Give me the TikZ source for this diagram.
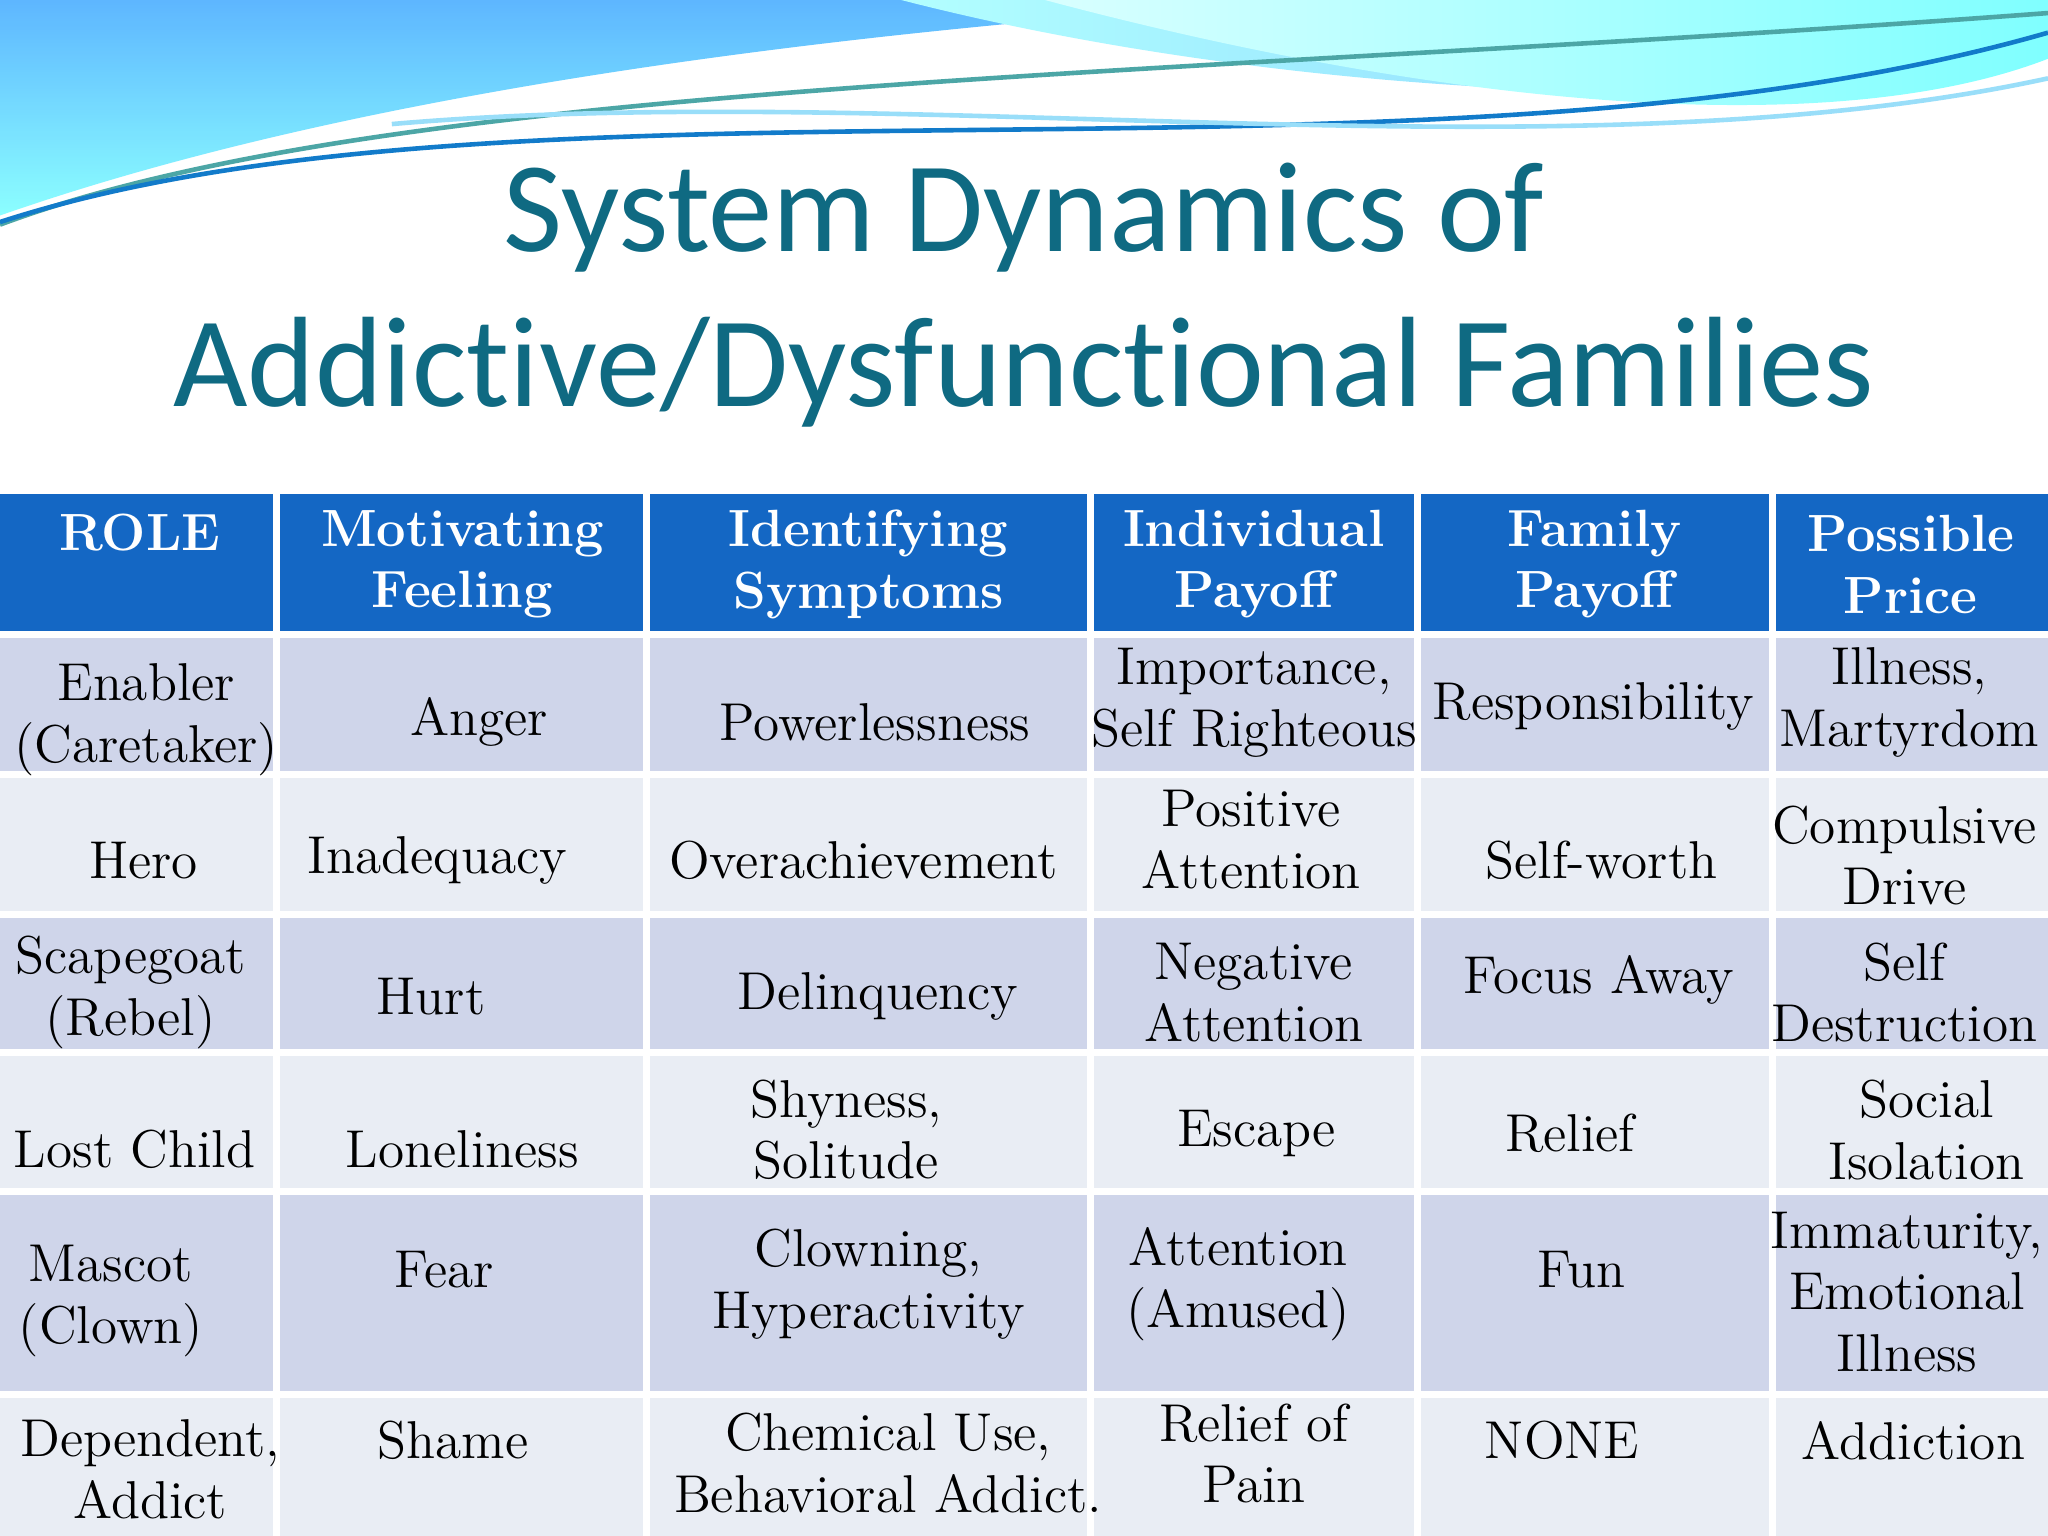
\documentclass[tikz,border=0pt]{standalone}
\usepackage{fontspec}
\newfontfamily\titlefont[Ligatures={NoCommon,NoRare,NoContextual}]{Carlito}
\definecolor{hdr}{HTML}{1467C4}
\definecolor{rowd}{HTML}{CFD5EA}
\definecolor{rowl}{HTML}{E9EDF4}
\definecolor{ttl}{HTML}{0F6A82}
\begin{document}
\begin{tikzpicture}[x=0.01cm,y=-0.01cm,
  cell/.style={align=center,font=\fontsize{11.6}{13.4}\selectfont,text=black,inner sep=0pt},
  head/.style={align=center,font=\fontsize{11.4}{13.4}\selectfont\bfseries,text=white,inner sep=0pt}]
\useasboundingbox (0,0) rectangle (1568,1176);
\fill[white] (0,0) rectangle (1568,1176);
% waves
\shade[top color=blue!45!cyan!70,bottom color=cyan!50,opacity=0.9]
  (0,0) -- (1000,0) .. controls (700,20) and (300,60) .. (0,165) -- cycle;
\shade[left color=cyan!30,right color=cyan!60!blue!50]
  (690,0) -- (1568,0) -- (1568,40) .. controls (1400,90) and (1000,80) .. (690,0) -- cycle;
\shade[left color=cyan!15,right color=cyan!50]
  (800,0) .. controls (1100,80) and (1400,110) .. (1568,45) -- (1568,0) -- cycle;
\draw[teal!70,line width=1pt] (0,172) .. controls (300,60) and (900,60) .. (1568,10);
\draw[cyan!60!blue,line width=1pt] (0,170) .. controls (400,40) and (1100,160) .. (1568,25);
\draw[cyan!40,line width=1pt] (300,95) .. controls (700,60) and (1200,140) .. (1568,60);
% title
\node[font=\titlefont\fontsize{28}{30}\selectfont,text=ttl] (t1) at (784,167) {System Dynamics of};
\node[font=\titlefont\fontsize{28}{30}\selectfont,text=ttl] (t2) at (784,285) {Addic\kern0pt tive/Dysfunc\kern0pt tional Families};
% table backgrounds
\fill[hdr] (0,378) rectangle (1568,486);
\foreach \a/\b/\c in {488/593/rowd,593/700/rowl,700/806/rowd,806/912/rowl,912/1068/rowd,1068/1176/rowl}
  \fill[\c] (0,\a) rectangle (1568,\b);
\foreach \x in {212,495,835,1085,1357}
  \draw[white,line width=1.5pt] (\x,378) -- (\x,1176);
\foreach \y in {486,593,700,806,912,1068}
  \draw[white,line width=1.5pt] (0,\y) -- (1568,\y);
% headers
\node[head] (h1) at (107,408) {ROLE};
\node[head] (h2) at (354,432) {Motivating\\Feeling};
\node[head] (h3) at (665,432) {Identifying\\Symptoms};
\node[head] (h4) at (960,432) {Individual\\Payoff};
\node[head] (h5) at (1221,432) {Family\\Payoff};
\node[head] (h6) at (1463,432) {Possible\\Price};
% row 1
\node[cell] (a1) at (112,551) {Enabler\\(Caretaker)};
\node[cell] (a2) at (367,553) {Anger};
\node[cell] (a3) at (670,553) {Powerlessness};
\node[cell] (a4) at (960,538) {Importance,\\Self Righteous};
\node[cell] (a5) at (1220,541) {Responsibility};
\node[cell] (a6) at (1462,538) {Illness,\\Martyrdom};
% row 2
\node[cell] (b1) at (110,659) {Hero};
\node[cell] (b2) at (335,659) {Inadequacy};
\node[cell] (b3) at (661,659) {Overachievement};
\node[cell] (b4) at (958,643) {Positive\\Attention};
\node[cell] (b5) at (1226,659) {Self-worth};
\node[cell] (b6) at (1458,655) {Compulsive\\Drive};
% row 3
\node[cell] (c1) at (100,760) {Scapegoat\\(Rebel)};
\node[cell] (c2) at (330,763) {Hurt};
\node[cell] (c3) at (672,763) {Delinquency};
\node[cell] (c4) at (960,760) {Negative\\Attention};
\node[cell] (c5) at (1224,750) {Focus Away};
\node[cell] (c6) at (1458,760) {Self\\Destruction};
% row 4
\node[cell] (d1) at (103,880) {Lost Child};
\node[cell] (d2) at (354,880) {Loneliness};
\node[cell] (d3) at (648,865) {Shyness,\\Solitude};
\node[cell] (d4) at (962,868) {Escape};
\node[cell] (d5) at (1202,868) {Relief};
\node[cell] (d6) at (1475,865) {Social\\Isolation};
% row 5
\node[cell] (e1) at (85,996) {Mascot\\(Clown)};
\node[cell] (e2) at (340,972) {Fear};
\node[cell] (e3) at (665,983) {Clowning,\\Hyperactivity};
\node[cell] (e4) at (948,983) {Attention\\(Amused)};
\node[cell] (e5) at (1211,972) {Fun};
\node[cell] (e6) at (1460,989) {Immaturity,\\Emotional\\Illness};
% row 6
\node[cell] (f1) at (115,1125) {Dependent,\\Addict};
\node[cell] (f2) at (347,1103) {Shame};
\node[cell] (f3) at (680,1120) {Chemical Use,\\Behavioral Addict.};
\node[cell] (f4) at (960,1113) {Relief of\\Pain};
\node[cell] (f5) at (1196,1103) {NONE};
\node[cell] (f6) at (1465,1103) {Addiction};
\end{tikzpicture}
\end{document}
